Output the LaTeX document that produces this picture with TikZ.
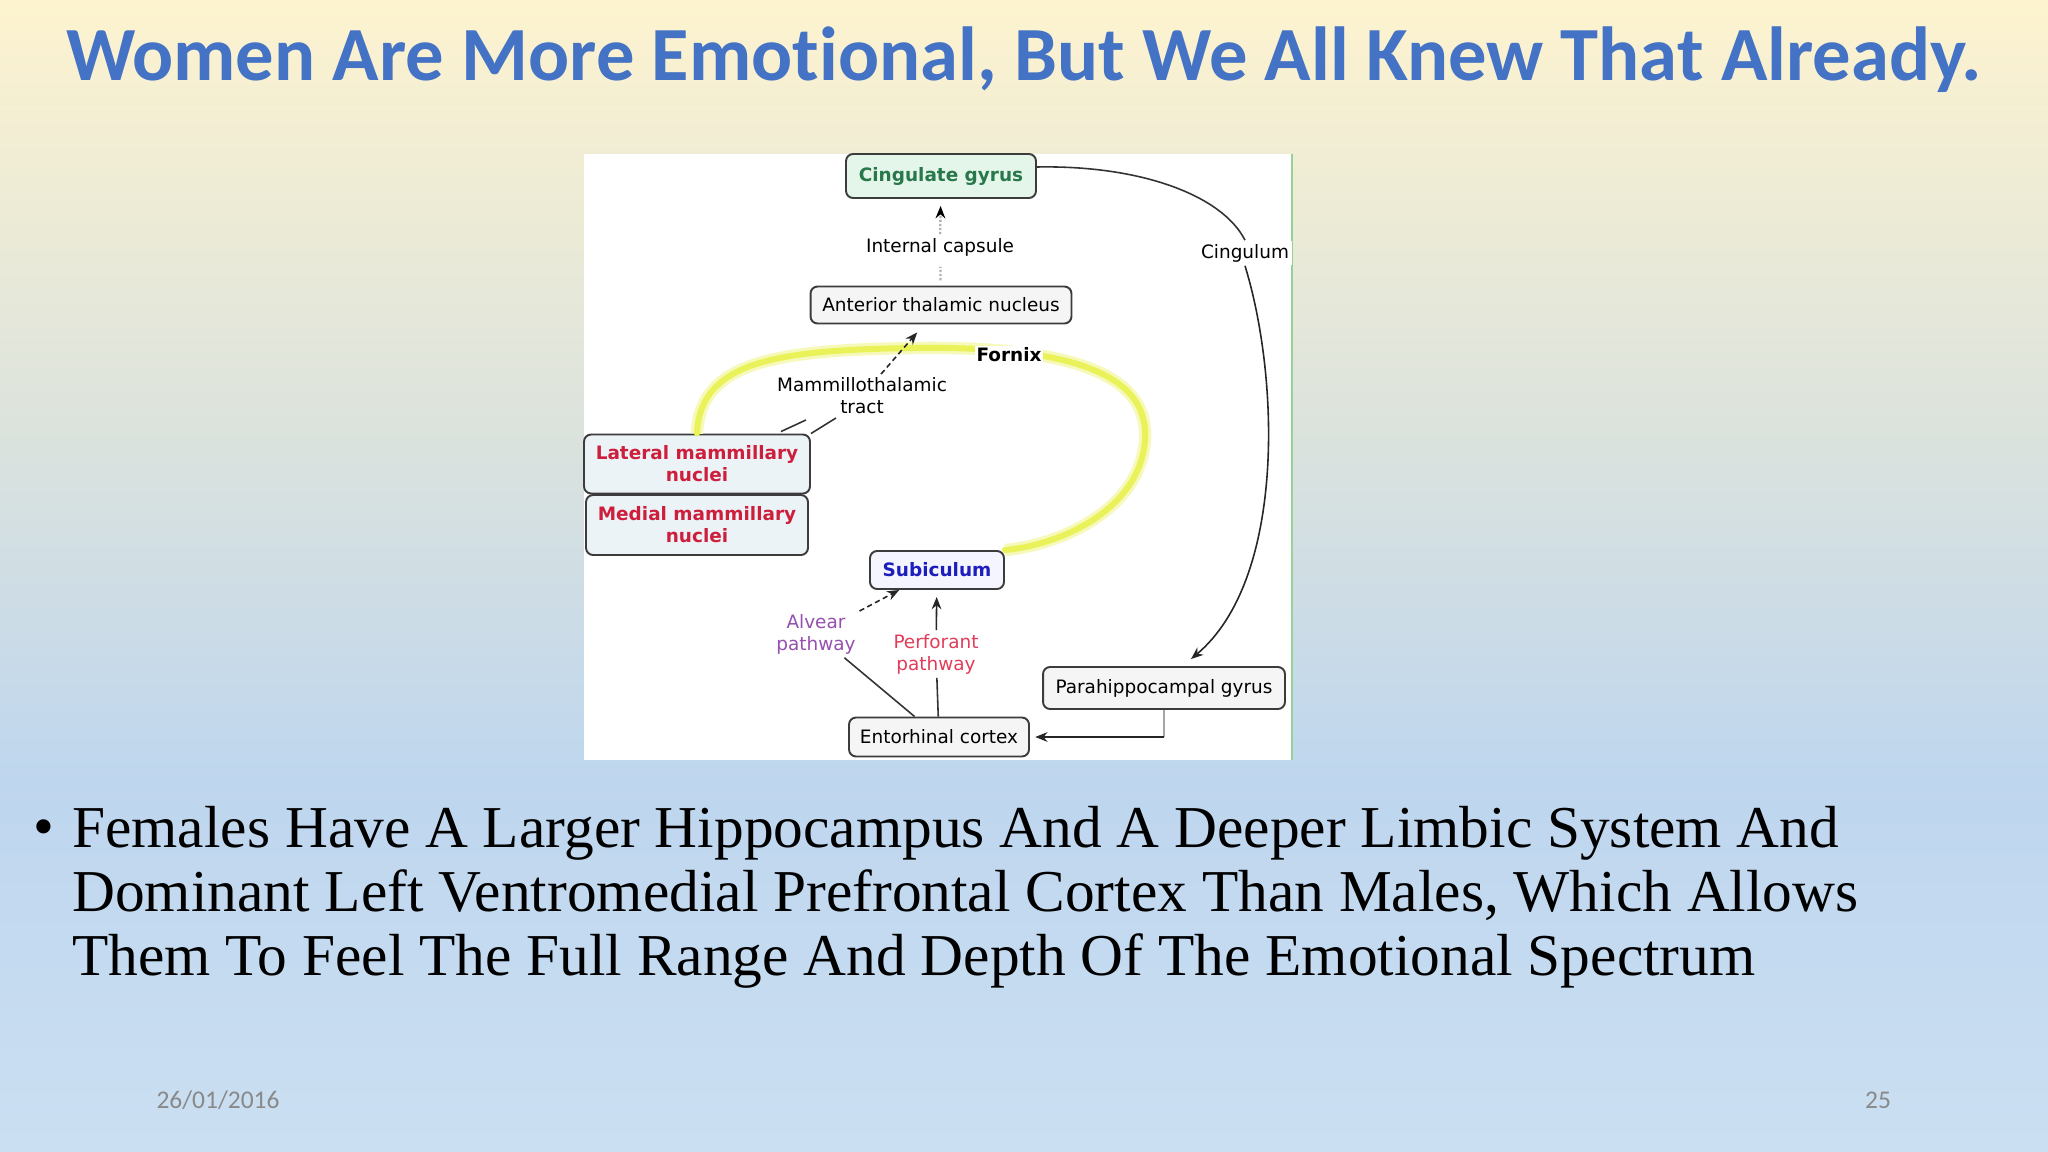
\documentclass[tikz,border=0pt]{standalone}
\usepackage{fontspec}
\setmainfont{Liberation Serif}
\newfontfamily\slidefont[Ligatures=NoCommon]{Carlito}
\newfontfamily\figfont{DejaVu Sans}
\usepackage{tikz}
\usetikzlibrary{calc, positioning, arrows.meta}
\definecolor{Titleblue}{RGB}{68,114,196}
\definecolor{Bgtop}{RGB}{253,243,207}
\definecolor{Bgmid}{RGB}{218,226,222}
\definecolor{Bgblue}{RGB}{190,214,238}
\definecolor{Bgbot}{RGB}{203,223,242}
\definecolor{Boxgray}{RGB}{60,60,60}
\definecolor{Cingfill}{RGB}{228,245,234}
\definecolor{Cinggreen}{RGB}{40,120,75}
\definecolor{Mamfill}{RGB}{236,243,247}
\definecolor{Mamred}{RGB}{205,30,60}
\definecolor{Subblue}{RGB}{30,30,190}
\definecolor{Alvpurple}{RGB}{150,80,175}
\definecolor{Perfred}{RGB}{225,60,90}
\definecolor{Fornixyellow}{RGB}{234,242,90}
\definecolor{Fornixglow}{RGB}{246,249,185}
\definecolor{Picgreen}{RGB}{150,210,150}
\definecolor{Footgray}{RGB}{137,137,137}

\begin{document}
\begin{tikzpicture}[
  x=0.02cm, y=-0.02cm,
  ttl/.style={font=\slidefont\bfseries\fontsize{43.6}{50}\selectfont, text=Titleblue},
  box/.style={draw=Boxgray, rounded corners=4pt, line width=1.1pt,
              align=center, inner sep=2pt,
              font=\figfont\fontsize{10.5}{12.5}\selectfont},
  lbl/.style={align=center, inner sep=2pt,
              font=\figfont\fontsize{10.5}{12.5}\selectfont},
  body/.style={font=\fontsize{33.8}{36.4}\selectfont, align=left, inner sep=0pt},
  foot/.style={font=\slidefont\fontsize{14.5}{16}\selectfont, text=Footgray},
  arr/.style={-{Stealth[length=7pt, width=5.5pt]}, line width=0.9pt, draw=black!85},
  darr/.style={arr, dash pattern=on 3pt off 2pt},
  dotln/.style={densely dotted, line width=1.3pt, draw=gray!60},
  ln/.style={line width=0.9pt, draw=black!80},
  fornix/.style={draw=Fornixyellow, line width=3.4pt, line cap=round,
                 preaction={draw=Fornixglow, line width=7pt}}
]
\useasboundingbox (0,0) rectangle (2048,1152);
\shade[top color=Bgtop, bottom color=Bgmid] (0,0) rectangle (2048,450);
\shade[top color=Bgmid, bottom color=Bgblue] (0,450) rectangle (2048,780);
\shade[top color=Bgblue, bottom color=Bgbot] (0,780) rectangle (2048,1152);

\node[ttl] (title) at (1024,60) {Women Are More Emotional, But We All Knew That Already.};

\fill[white] (584,154) rectangle (1292,760);
\draw[Picgreen, line width=1pt] (1292,154) -- (1292,760);

\node[box, fill=Cingfill, text=Cinggreen, font=\figfont\bfseries\fontsize{10.5}{12.5}\selectfont,
      minimum width=3.8cm, minimum height=0.88cm] (cing) at (941,176) {Cingulate gyrus};
\node[box, fill=black!4, minimum width=5.22cm, minimum height=0.74cm] (ant) at (941,305) {Anterior thalamic nucleus};
\node[box, fill=Mamfill, text=Mamred, font=\figfont\bfseries\fontsize{10.5}{12.5}\selectfont,
      minimum width=4.52cm, minimum height=1.18cm] (lat) at (697,464) {Lateral mammillary\\nuclei};
\node[box, fill=Mamfill, text=Mamred, font=\figfont\bfseries\fontsize{10.5}{12.5}\selectfont,
      minimum width=4.44cm, minimum height=1.2cm] (med) at (697,525) {Medial mammillary\\nuclei};
\node[box, fill=blue!4, text=Subblue, font=\figfont\bfseries\fontsize{10.5}{12.5}\selectfont,
      minimum width=2.68cm, minimum height=0.76cm] (sub) at (937,570) {Subiculum};
\node[box, fill=black!4, minimum width=3.6cm, minimum height=0.78cm] (ento) at (939,737) {Entorhinal cortex};
\node[box, fill=black!4, minimum width=4.84cm, minimum height=0.84cm] (para) at (1164,688) {Parahippocampal gyrus};

\draw[fornix] (lat.north) .. controls (700,360) and (780,350) .. (914,348)
  .. controls (1060,346) and (1150,370) .. (1145,440)
  .. controls (1140,510) and (1060,545) .. (sub.north east);

\node[lbl, fill=white] (cap) at (940,247) {Internal capsule};
\node[lbl] (mtl) at (862,396) {Mammillothalamic\\tract};
\node[lbl, fill=white, inner sep=1pt, font=\figfont\bfseries\fontsize{10.5}{12.5}\selectfont] (frx) at (1009,355) {Fornix};
\node[lbl, text=Alvpurple] (alv) at (816,634) {Alvear\\pathway};
\node[lbl, text=Perfred] (perf) at (936,654) {Perforant\\pathway};
\node[lbl, fill=white] (cgm) at (1245,253) {Cingulum};

\draw[dotln, shorten <=3pt, shorten >=4pt] (ant) -- (cap);
\draw[dotln, -{Stealth[length=7pt, width=5.5pt, color=black]}, shorten >=4pt] (cap) -- (cing);
\draw[darr, shorten >=6pt] (mtl) -- (ant);
\draw[ln] (lat.north east) -- ($(mtl.south)+(-26,0)$);
\draw[ln] ($(lat.north east)+(-30,-2)$) -- ($(mtl.south)+(-56,2)$);
\draw[darr] (alv) -- (sub);
\draw[ln] (alv) -- (ento);
\draw[arr, shorten >=4pt] (perf) -- (sub);
\draw[ln] (perf) -- (ento);
\draw[ln, draw=gray!70] (para.south) -- (para.south |- ento.east);
\draw[arr, shorten >=3pt] (para.south |- ento.east) -- (ento.east);
\draw[ln] ($(cing.east)+(0,-9)$) .. controls (1140,165) and (1222,195) .. (cgm.north);
\draw[arr] (cgm.south) .. controls (1280,380) and (1285,580) .. ($(para.north)+(27,-7)$);

\node[body, anchor=base] (blt) at (44,846) {\textbullet};
\node[body, anchor=north west] (txt) at (72,806) {Females Have A Larger Hippocampus And A Deeper Limbic System And\\Dominant Left Ventromedial Prefrontal Cortex Than Males, Which Allows\\Them To Feel The Full Range And Depth Of The Emotional Spectrum};

\node[foot] (date) at (218,1100) {26/01/2016};
\node[foot] (pgno) at (1878,1100) {25};
\end{tikzpicture}
\end{document}
